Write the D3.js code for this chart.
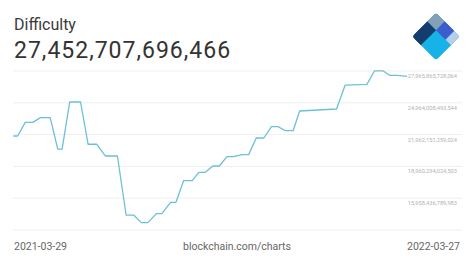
<!DOCTYPE html>
<html><head><meta charset="utf-8">
<script src="https://cdn.jsdelivr.net/npm/d3@7"></script>
<style>
html,body{margin:0;padding:0;background:#fff;}
svg{display:block;font-family:Roboto,"Noto Sans",sans-serif;}
</style></head>
<body>
<svg id="c" width="474" height="265"></svg>
<script>
const title = "Difficulty";
const currentValue = "27,452,707,696,466";
const startLabel = "2021-03-29";
const endLabel = "2022-03-27";
const sourceLabel = "blockchain.com/charts";

const dates = ["2021-03-29","2021-04-02","2021-04-09","2021-04-16","2021-04-23","2021-05-02","2021-05-09","2021-05-13","2021-05-20","2021-05-30","2021-06-06","2021-06-14","2021-06-22","2021-07-03","2021-07-11","2021-07-18","2021-07-25","2021-07-31","2021-08-08","2021-08-13","2021-08-21","2021-08-26","2021-09-02","2021-09-10","2021-09-16","2021-09-22","2021-09-29","2021-10-05","2021-10-12","2021-10-18","2021-10-26","2021-11-01","2021-11-08","2021-11-15","2021-11-22","2021-11-28","2021-12-05","2021-12-12","2021-12-18","2022-01-21","2022-01-29","2022-02-18","2022-02-25","2022-03-05","2022-03-11","2022-03-18","2022-03-27"];
const difficultyT = [21.83,21.83,23.12,23.12,23.56,23.56,20.60,20.60,25.04,25.04,21.05,21.05,19.94,19.94,14.37,14.37,13.65,13.65,14.50,14.50,15.57,15.57,17.61,17.61,18.40,18.40,19.00,19.00,19.88,19.88,20.07,20.07,21.64,21.64,22.71,22.71,22.33,22.33,24.19,24.38,26.64,26.71,27.97,27.97,27.56,27.56,27.45];

const tickValues = [12956579555463,15958436789983,18960294024503,21962151259024,24964008493544,27965865728064];
const tickLabels = ["","15,958,436,789,983","18,960,294,024,503","21,962,151,259,024","24,964,008,493,544","27,965,865,728,064"];

const parse = d3.utcParse("%Y-%m-%d");
const data = dates.map((d,i)=>({date:parse(d), value:difficultyT[i]*1e12}));

const svg = d3.select("#c");

const x = d3.scaleUtc().domain([parse(startLabel), parse(endLabel)]).range([13.3, 407]);
const y = d3.scaleLinear().domain([tickValues[0], tickValues[tickValues.length-1]]).range([230, 71]);

// gridlines
svg.append("g").selectAll("line").data(tickValues).join("line")
  .attr("x1", 13).attr("x2", 462)
  .attr("y1", d=>y(d)).attr("y2", d=>y(d))
  .attr("stroke", "#efefef").attr("stroke-width", 1);

// tick labels
svg.append("g").selectAll("text").data(tickValues).join("text")
  .attr("x", 457).attr("y", d=>y(d)+7)
  .attr("text-anchor","end")
  .attr("font-size", 5.7).attr("fill", "#b3b3b3")
  .text((d,i)=>tickLabels[i]);

// line
const line = d3.line().x(d=>x(d.date)).y(d=>y(d.value));
svg.append("path").datum(data)
  .attr("d", line).attr("fill","none")
  .attr("stroke","#6cc0d8").attr("stroke-width",1.3)
  .attr("stroke-linejoin","round");

// titles
svg.append("text").attr("x",14).attr("y",30).attr("font-size",16).attr("fill","#3a3a3a").text(title);
svg.append("text").attr("x",14).attr("y",57.5).attr("font-size",23).attr("fill","#333")
  .attr("letter-spacing", 1.0).text(currentValue);

// footer
svg.append("text").attr("x",14).attr("y",249.5).attr("font-size",10.5).attr("fill","#666").text(startLabel);
svg.append("text").attr("x",237).attr("y",249.5).attr("font-size",10.5).attr("fill","#666").attr("text-anchor","middle").text(sourceLabel);
svg.append("text").attr("x",460).attr("y",249.5).attr("font-size",10.5).attr("fill","#666").attr("text-anchor","end").text(endLabel);

// logo
const logo = svg.append("g").attr("transform","translate(436,36.5) rotate(45)");
const defs = svg.append("defs");
defs.append("clipPath").attr("id","lc").append("rect")
  .attr("x",-17).attr("y",-17).attr("width",34).attr("height",34).attr("rx",3.5);
const lg = logo.append("g").attr("clip-path","url(#lc)");
const pieces = [
  {x:-17,y:-17,w:34,h:34,c:"#16b2e8"},
  {x:-17,y:-17,w:12.5,h:12.5,c:"#849fb8"},
  {x:-17,y:-4.5,w:12.5,h:21.5,c:"#143d6e"},
  {x:-4.5,y:-17,w:13.5,h:12.5,c:"#3d5ccd"},
  {x:9,y:-17,w:8,h:12.5,c:"#b6cdeb"}
];
lg.selectAll("rect").data(pieces).join("rect")
  .attr("x",d=>d.x).attr("y",d=>d.y).attr("width",d=>d.w).attr("height",d=>d.h).attr("fill",d=>d.c);
</script>
</body></html>
